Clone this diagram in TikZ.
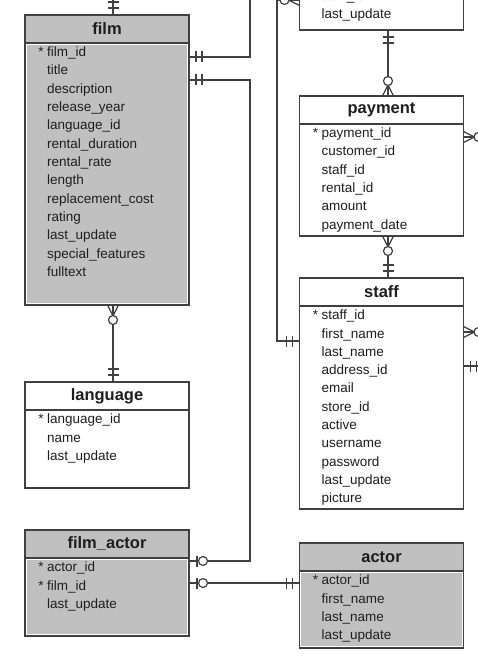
\documentclass[tikz,border=0pt]{standalone}
\usepackage{fontspec}
\setmainfont{Liberation Sans}
\usepackage{xcolor}
\usetikzlibrary{positioning}

\definecolor{tabgray}{HTML}{C0C0C0}
\definecolor{linec}{HTML}{404040}
\definecolor{txtc}{HTML}{1E1E1E}

\newcommand{\keymark}{\llap{*\hspace{3.5pt}}}
\newcommand{\firstrow}{\rule{0pt}{10pt}}

\tikzset{
  mandone/.pic={\draw[rel] (7pt,-5.5pt) -- (7pt,5.5pt) (13pt,-5.5pt) -- (13pt,5.5pt);},
  optone/.pic={\draw[rel] (8pt,-5.5pt) -- (8pt,5.5pt); \draw[rel, fill=white] (14pt,0pt) circle (4.5pt);},
  optmany/.pic={\draw[rel] (0pt,-5.5pt) -- (11pt,0pt) -- (0pt,5.5pt); \draw[rel, fill=white] (15pt,0pt) circle (4.5pt);}
}

\begin{document}
\begin{tikzpicture}[
  x=1pt, y=-1pt,
  rel/.style={draw=linec, line width=1.2pt},
  head/.style={draw=linec, line width=1.2pt, outer sep=0pt, inner sep=0pt, minimum width=164, minimum height=28, anchor=north west, text=txtc, font=\bfseries\fontsize{16.5}{20}\selectfont},
  cols/.style={draw=linec, line width=1.2pt, outer sep=0pt, inner sep=0pt, minimum width=164},
  shaded/.style={fill=tabgray, path picture={\draw[white, line width=1pt] ([shift={(1.2pt,-1.2pt)}]path picture bounding box.north west) rectangle ([shift={(-1.2pt,1.2pt)}]path picture bounding box.south east);}},
  rows/.style={anchor=north west, inner sep=0pt, align=left, text=txtc, font=\fontsize{13.5}{18.3}\selectfont}
]
\clip (0,0) rectangle (478,660);
\fill[white] (0,0) rectangle (478,660);

% left column
\node[head, fill=tabgray] (film) at (25,15) {film};
\node[cols, shaded, minimum height=262, below=0pt of film] (filmcols) {};
\node[rows] (filmtxt) at ([xshift=22, yshift=-3.5]filmcols.north west) {\firstrow\keymark film\_id\\title\\description\\release\_year\\language\_id\\rental\_duration\\rental\_rate\\length\\replacement\_cost\\rating\\last\_update\\special\_features\\fulltext};

\node[head, fill=white] (language) at (25,382) {language};
\node[cols, fill=white, minimum height=78, below=0pt of language] (languagecols) {};
\node[rows] (languagetxt) at ([xshift=22, yshift=-3.5]languagecols.north west) {\firstrow\keymark language\_id\\name\\last\_update};

\node[head, fill=tabgray] (filmactor) at (25,530) {film\_actor};
\node[cols, shaded, minimum height=78, below=0pt of filmactor] (filmactorcols) {};
\node[rows] (filmactortxt) at ([xshift=22, yshift=-3.5]filmactorcols.north west) {\firstrow\keymark actor\_id\\\keymark film\_id\\last\_update};

% right column
\node[cols, fill=white, minimum height=80, anchor=south west] (rentalcols) at (299.5,30) {};
\node[rows] (rentaltxt) at ([xshift=22, yshift=39.8]rentalcols.south west) {\firstrow staff\_id\\last\_update};

\node[head, fill=white] (payment) at (299.5,96) {payment};
\node[cols, fill=white, minimum height=112, below=0pt of payment] (paymentcols) {};
\node[rows] (paymenttxt) at ([xshift=22, yshift=-3.5]paymentcols.north west) {\firstrow\keymark payment\_id\\customer\_id\\staff\_id\\rental\_id\\amount\\payment\_date};

\node[head, fill=white] (staff) at (299.5,278) {staff};
\node[cols, fill=white, minimum height=203, below=0pt of staff] (staffcols) {};
\node[rows] (stafftxt) at ([xshift=22, yshift=-3.5]staffcols.north west) {\firstrow\keymark staff\_id\\first\_name\\last\_name\\address\_id\\email\\store\_id\\active\\username\\password\\last\_update\\picture};

\node[head, fill=tabgray] (actor) at (299.5,543) {actor};
\node[cols, shaded, minimum height=77, below=0pt of actor] (actorcols) {};
\node[rows] (actortxt) at ([xshift=22, yshift=-3.5]actorcols.north west) {\firstrow\keymark actor\_id\\first\_name\\last\_name\\last\_update};

% connector ends
\coordinate (film-t) at ([xshift=6]film.north);
\coordinate (film-r1) at ([yshift=-14]filmcols.north east);
\coordinate (film-r2) at ([yshift=-37]filmcols.north east);
\coordinate (film-bt) at ([xshift=6]filmcols.south);
\coordinate (lang-t) at ([xshift=6]language.north);
\coordinate (fa-r1) at ([yshift=-3]filmactorcols.north east);
\coordinate (fa-r2) at ([yshift=-25]filmactorcols.north east);
\coordinate (actor-l) at (actorcols.west |- fa-r2);
\coordinate (rental-bt) at ([xshift=6.5]rentalcols.south);
\coordinate (rental-l) at ([yshift=30]rentalcols.south west);
\coordinate (pay-t) at ([xshift=6.5]payment.north);
\coordinate (pay-bt) at ([xshift=6.5]paymentcols.south);
\coordinate (pay-r) at ([yshift=-13]paymentcols.north east);
\coordinate (staff-t) at ([xshift=6.5]staff.north);
\coordinate (staff-l) at ([yshift=-35]staffcols.north west);
\coordinate (staff-r1) at ([yshift=-26]staffcols.north east);
\coordinate (staff-r2) at ([yshift=-60]staffcols.north east);
\coordinate (up-film) at ([yshift=40]film-t);
\coordinate (up-store) at ([xshift=61, yshift=80]film-r1);
\coordinate (out-pay) at ([xshift=30]pay-r);
\coordinate (out-staff1) at ([xshift=30]staff-r1);
\coordinate (out-staff2) at ([xshift=30]staff-r2);

% connectors
\draw[rel] (film-t) -- (up-film);
\draw[rel] (film-r1) -| (up-store);
\draw[rel] (film-r2) -- ++(61,0) |- (fa-r1);
\draw[rel] (film-bt) -- (lang-t);
\draw[rel] (fa-r2) -- (actor-l);
\draw[rel] (rental-bt) -- (pay-t);
\draw[rel] (pay-bt) -- (staff-t);
\draw[rel] (rental-l) -- ++(-22.5,0) |- (staff-l);
\draw[rel] (pay-r) -- (out-pay);
\draw[rel] (staff-r1) -- (out-staff1);
\draw[rel] (staff-r2) -- (out-staff2);

% end marks
\pic[rotate=90] at (film-t) {mandone};
\pic at (film-r1) {mandone};
\pic at (film-r2) {mandone};
\pic[rotate=-90] at (film-bt) {optmany};
\pic[rotate=90] at (lang-t) {mandone};
\pic at (fa-r1) {optone};
\pic at (fa-r2) {optone};
\pic[rotate=180] at (actor-l) {mandone};
\pic[rotate=-90] at (rental-bt) {mandone};
\pic[rotate=180] at (rental-l) {optmany};
\pic[rotate=90] at (pay-t) {optmany};
\pic[rotate=-90] at (pay-bt) {optmany};
\pic at (pay-r) {optmany};
\pic[rotate=90] at (staff-t) {mandone};
\pic[rotate=180] at (staff-l) {mandone};
\pic at (staff-r1) {optmany};
\pic at (staff-r2) {mandone};

\end{tikzpicture}
\end{document}
